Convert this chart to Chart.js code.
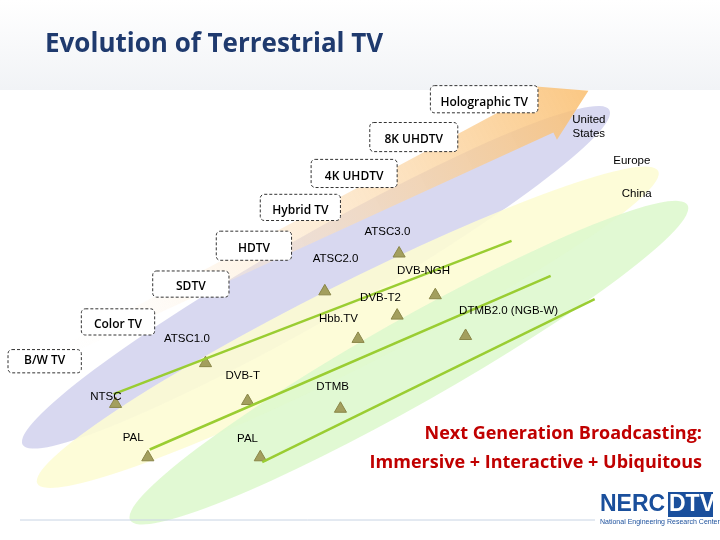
<!DOCTYPE html>
<html><head><meta charset="utf-8">
<script src="https://cdn.jsdelivr.net/npm/chart.js@4"></script>
<style>body{margin:0;background:#fff}canvas{display:block}</style>
</head><body>
<canvas id="c" width="720" height="540"></canvas>
<script>
// standards (triangles) and where the labels sit, in slide coordinates
const stdNames = ["NTSC","PAL","ATSC1.0","DVB-T","PAL","ATSC2.0","ATSC3.0","DVB-NGH","DVB-T2","Hbb.TV","DTMB2.0 (NGB-W)","DTMB"]
const stdX = [110,143,202,245,258,324,400,437,398,358,468,340]
const stdY = [408,463,366,405,463,292,253,296,317,341,338,413]
const labX = [100,128,183,240,245,335,388,425,381,338,512,332]
const labY = [401,443,341,379,444,258,231,271,299,320,312,390]

// TV generations (dashed boxes on the staircase)
const genNames = ["B/W TV","Color TV","SDTV","HDTV","Hybrid TV","4K UHDTV","8K UHDTV","Holographic TV"]
const genX0 = [0,75,148,213,258,310,370,432]
const genY0 = [352,310,271,230,192,156,118,80]
const genX1 = [75,150,226,290,340,398,460,542]
const genY1 = [376,337,298,260,219,185,148,108]

// regional bands and their green timeline lines
const regions = ["United States","Europe","China"]
const regLabX = [594,638,643]
const regLabY = [122,158,191]
const bandStart = [[15,450],[30,490],[125,528]]
const bandEnd = [[615,105],[665,168],[695,203]]
const bandColor = ["rgba(212,212,238,0.9)","rgba(253,252,212,0.9)","rgba(222,248,206,0.9)"]
const lineStart = [[108,398],[145,455],[260,468]]
const lineEnd = [[515,240],[555,276],[600,300]]

const datasets = []
for (let i = 0; i < 3; i++) {
  datasets.push({type:"line", data:[{x:lineStart[i][0],y:lineStart[i][1]},{x:lineEnd[i][0],y:lineEnd[i][1]}],
    borderColor:"#9acd32", borderWidth:2.5, pointRadius:0})
}
datasets.push({type:"scatter", data: stdX.map((x,i)=>({x, y:stdY[i]})),
  pointStyle:"triangle", pointRadius:7, backgroundColor:"#a39f5e", borderColor:"#8a8648"})

const background = {
  id:"background",
  beforeDatasetsDraw(chart) {
    const c = chart.ctx, xs = chart.scales.x, ys = chart.scales.y
    const px = v => xs.getPixelForValue(v), py = v => ys.getPixelForValue(v)
    const g = c.createLinearGradient(0,0,0,90)
    g.addColorStop(0,"#ffffff"); g.addColorStop(1,"#f1f3f6")
    c.fillStyle = g; c.fillRect(0,0,720,90)
    for (let i = 0; i < 3; i++) {
      const x0 = px(bandStart[i][0]), y0 = py(bandStart[i][1]), x1 = px(bandEnd[i][0]), y1 = py(bandEnd[i][1])
      const len = Math.hypot(x1-x0, y1-y0)
      c.save(); c.translate((x0+x1)/2,(y0+y1)/2); c.rotate(Math.atan2(y1-y0,x1-x0))
      c.beginPath(); c.ellipse(0,0,len/2,42,0,0,Math.PI*2)
      c.fillStyle = bandColor[i]; c.fill(); c.restore()
    }
    // orange arrow behind staircase
    c.save(); c.translate(px(20),py(372)); c.rotate(Math.atan2(py(92)-py(372), px(580)-px(20)))
    const L = Math.hypot(560,280)
    const ag = c.createLinearGradient(0,0,L,0)
    ag.addColorStop(0,"rgba(255,255,255,0)"); ag.addColorStop(0.5,"rgba(252,225,190,0.6)"); ag.addColorStop(1,"rgba(250,190,110,0.85)")
    c.beginPath(); c.moveTo(0,-4); c.lineTo(L-50,-22); c.lineTo(L-50,-30); c.lineTo(L,0); c.lineTo(L-50,30); c.lineTo(L-50,22); c.lineTo(0,4); c.closePath()
    c.fillStyle = ag; c.fill(); c.restore()
  },
  afterDatasetsDraw(chart) {
    const c = chart.ctx, xs = chart.scales.x, ys = chart.scales.y
    const px = v => xs.getPixelForValue(v), py = v => ys.getPixelForValue(v)
    c.save()
    c.textBaseline = "middle"; c.textAlign = "center"
    genNames.forEach((n,i) => {
      const x0 = px(genX0[i]), y0 = py(genY0[i]), w = px(genX1[i])-x0, h = py(genY1[i])-y0
      c.fillStyle = "#fff"; c.beginPath(); c.roundRect(x0,y0,w,h,4); c.fill()
      c.setLineDash([3,2]); c.strokeStyle = "#333"; c.lineWidth = 1; c.stroke(); c.setLineDash([])
      c.fillStyle = "#000"; c.font = "600 12px 'Open Sans', sans-serif"
      c.fillText(n, x0+w/2, y0+h/2+(n=="B/W TV"?-1:3))
    })
    c.font = "11.5px 'Liberation Sans', Arial, sans-serif"; c.fillStyle = "#000"
    stdNames.forEach((n,i) => c.fillText(n, px(labX[i]), py(labY[i])))
    regions.forEach((n,i) => {
      if (n == "United States") { c.fillText("United", px(regLabX[i]), py(regLabY[i])-7); c.fillText("States", px(regLabX[i]), py(regLabY[i])+7) }
      else c.fillText(n, px(regLabX[i]), py(regLabY[i]))
    })
    c.textAlign = "left"; c.fillStyle = "#1f3a6e"; c.font = "bold 26px 'Open Sans', sans-serif"
    c.fillText("Evolution of Terrestrial TV", 45, 45)
    c.textAlign = "right"; c.fillStyle = "#c00000"; c.font = "bold 18px 'Open Sans', sans-serif"
    c.fillText("Next Generation Broadcasting:", 702, 434)
    c.fillText("Immersive + Interactive + Ubiquitous", 702, 463)
    // logo
    c.textAlign = "left"; c.font = "bold 23px 'Liberation Sans', sans-serif"
    c.fillStyle = "#1a4f9c"; c.fillText("NERC", 600, 505)
    c.fillRect(668,492,45,25); c.fillStyle = "#fff"; c.fillText("DTV", 669, 505)
    c.fillStyle = "#1a4f9c"; c.font = "7px 'Liberation Sans', sans-serif"
    c.fillText("National Engineering Research Center", 600, 522)
    c.strokeStyle = "#c8d4e4"; c.beginPath(); c.moveTo(20,520); c.lineTo(595,520); c.stroke()
    c.restore()
  }
}

new Chart(document.getElementById("c"), {
  type:"scatter",
  data:{datasets},
  options:{
    responsive:false, animation:false, layout:{padding:0},
    plugins:{legend:{display:false}, tooltip:{enabled:false}},
    scales:{
      x:{type:"linear", min:0, max:720, display:false},
      y:{type:"linear", min:0, max:540, reverse:true, display:false}
    }
  },
  plugins:[background]
})
</script>
</body></html>
